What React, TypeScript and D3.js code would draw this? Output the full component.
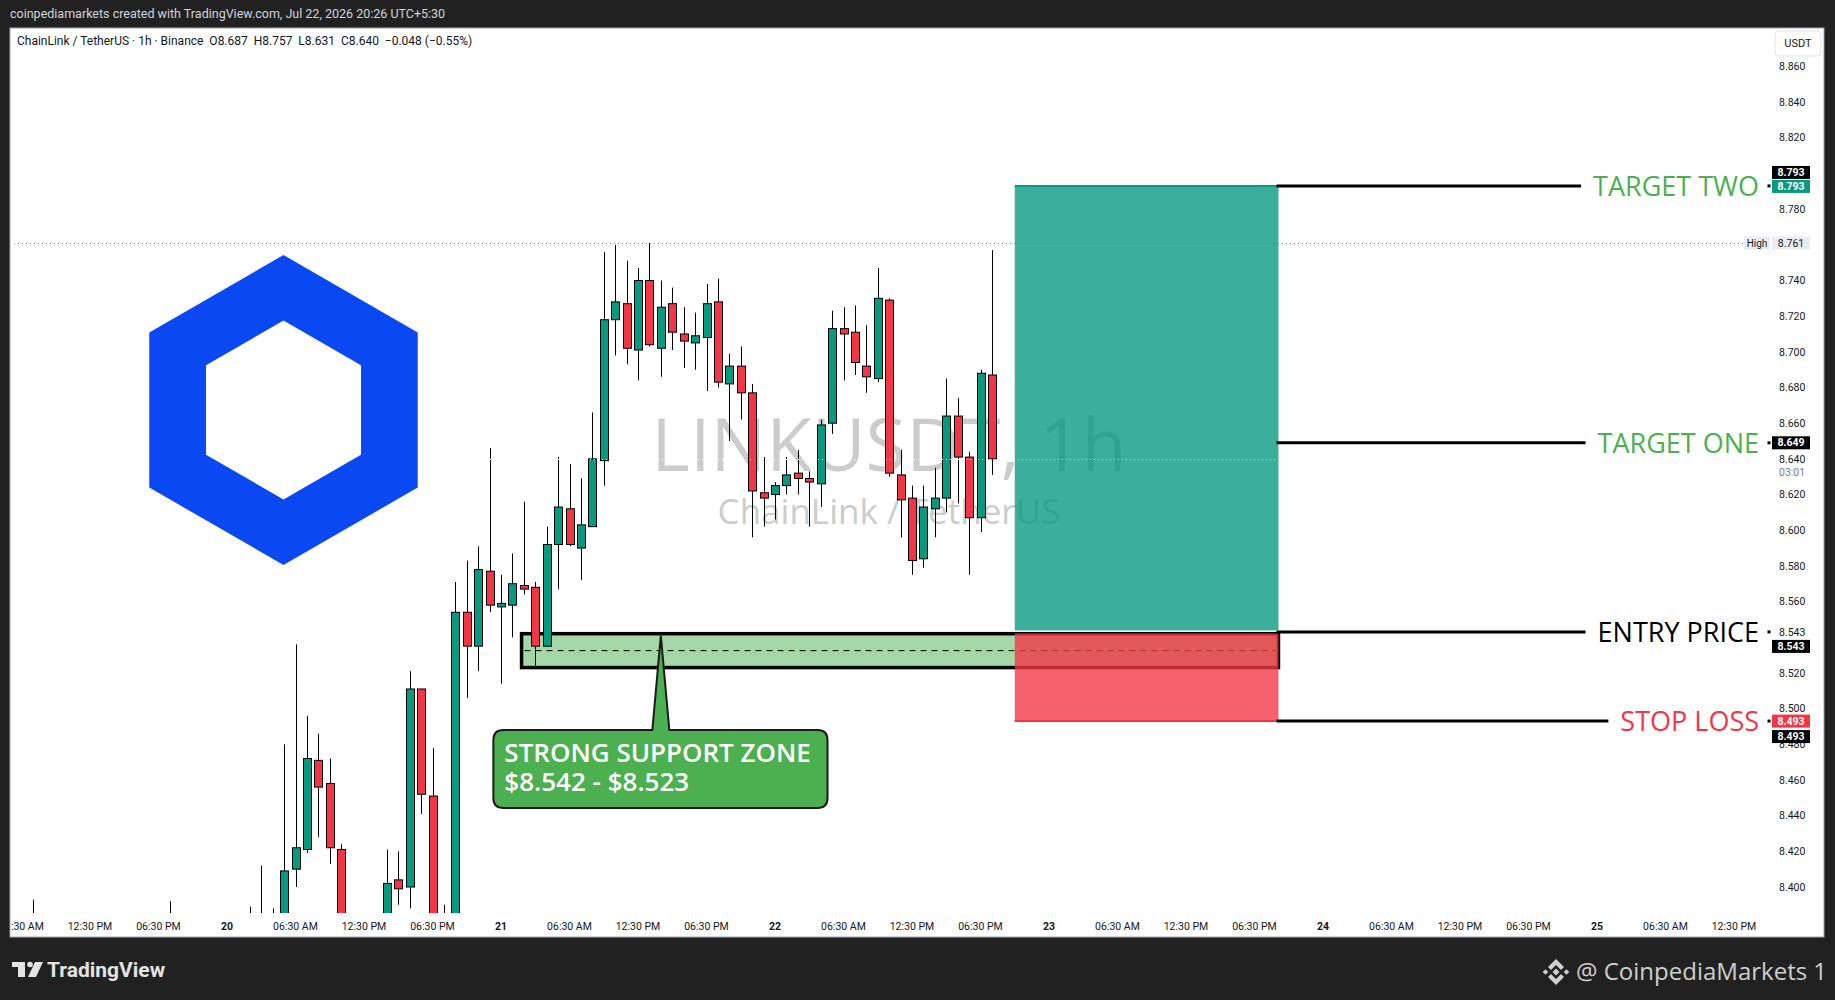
import React, { useEffect, useRef } from 'react';
import * as d3 from 'd3';

// hourly candles (hour index, 0 = 20 Jul 00:30)
const candleHours = [-17, -5, 2, 3, 4, 5, 6, 7, 8, 9, 10, 14, 15, 16, 17, 18, 19, 20, 21, 22, 23, 24, 25, 26, 27, 28, 29, 30, 31, 32, 33, 34, 35, 36, 37, 38, 39, 40, 41, 42, 43, 44, 45, 46, 47, 48, 49, 50, 51, 52, 53, 54, 55, 56, 57, 58, 59, 60, 61, 62, 63, 64, 65, 66, 67];
const opens = [8.375, 8.370, 8.360, 8.372, 8.366, 8.372, 8.410, 8.421, 8.471, 8.458, 8.421, 8.380, 8.404, 8.400, 8.511, 8.451, 8.355, 8.365, 8.554, 8.535, 8.577, 8.557, 8.558, 8.569, 8.568, 8.535, 8.592, 8.612, 8.590, 8.602, 8.639, 8.718, 8.727, 8.701, 8.740, 8.702, 8.727, 8.710, 8.705, 8.708, 8.728, 8.682, 8.692, 8.677, 8.621, 8.620, 8.625, 8.632, 8.629, 8.626, 8.660, 8.713, 8.711, 8.692, 8.685, 8.729, 8.631, 8.618, 8.584, 8.612, 8.618, 8.664, 8.641, 8.607, 8.687];
const highs = [8.393, 8.392, 8.389, 8.412, 8.388, 8.480, 8.536, 8.496, 8.486, 8.472, 8.424, 8.421, 8.420, 8.521, 8.511, 8.478, 8.390, 8.571, 8.583, 8.591, 8.646, 8.575, 8.587, 8.616, 8.571, 8.602, 8.641, 8.637, 8.629, 8.666, 8.756, 8.760, 8.751, 8.747, 8.761, 8.740, 8.736, 8.725, 8.722, 8.738, 8.741, 8.699, 8.703, 8.682, 8.641, 8.627, 8.641, 8.645, 8.633, 8.662, 8.723, 8.725, 8.726, 8.715, 8.747, 8.730, 8.645, 8.625, 8.625, 8.635, 8.685, 8.674, 8.644, 8.690, 8.757];
const lows = [8.362, 8.360, 8.352, 8.355, 8.358, 8.365, 8.400, 8.419, 8.428, 8.413, 8.350, 8.372, 8.390, 8.388, 8.441, 8.350, 8.340, 8.355, 8.506, 8.521, 8.554, 8.514, 8.540, 8.564, 8.524, 8.535, 8.567, 8.591, 8.572, 8.602, 8.625, 8.698, 8.693, 8.684, 8.703, 8.686, 8.701, 8.691, 8.690, 8.678, 8.680, 8.650, 8.662, 8.596, 8.602, 8.606, 8.620, 8.620, 8.602, 8.613, 8.654, 8.684, 8.687, 8.677, 8.683, 8.630, 8.596, 8.575, 8.579, 8.596, 8.610, 8.615, 8.575, 8.599, 8.631];
const closes = [8.370, 8.378, 8.372, 8.366, 8.378, 8.409, 8.422, 8.472, 8.456, 8.422, 8.360, 8.402, 8.399, 8.511, 8.452, 8.360, 8.370, 8.554, 8.535, 8.578, 8.558, 8.559, 8.570, 8.567, 8.535, 8.592, 8.613, 8.592, 8.603, 8.640, 8.718, 8.728, 8.702, 8.740, 8.704, 8.725, 8.711, 8.706, 8.709, 8.727, 8.683, 8.692, 8.677, 8.622, 8.618, 8.625, 8.631, 8.629, 8.627, 8.659, 8.713, 8.710, 8.694, 8.686, 8.730, 8.632, 8.617, 8.583, 8.613, 8.618, 8.664, 8.641, 8.607, 8.688, 8.640];

const priceTicks = [8.86, 8.84, 8.82, 8.78, 8.74, 8.72, 8.7, 8.68, 8.66, 8.64, 8.62, 8.6, 8.58, 8.56, 8.543, 8.52, 8.5, 8.48, 8.46, 8.44, 8.42, 8.4];
const timeTickHours = [-18, -12, -6, 0, 6, 12, 18, 24, 30, 36, 42, 48, 54, 60, 66, 72, 78, 84, 90, 96, 102, 108, 114, 120, 126, 132];
const timeTickLabels = ['06:30 AM', '12:30 PM', '06:30 PM', '20', '06:30 AM', '12:30 PM', '06:30 PM', '21', '06:30 AM', '12:30 PM', '06:30 PM', '22', '06:30 AM', '12:30 PM', '06:30 PM', '23', '06:30 AM', '12:30 PM', '06:30 PM', '24', '06:30 AM', '12:30 PM', '06:30 PM', '25', '06:30 AM', '12:30 PM'];

// trade levels
const levelNames = ['TARGET TWO', 'TARGET ONE', 'ENTRY PRICE', 'STOP LOSS'];
const levelPrices = [8.793, 8.649, 8.543, 8.493];
const levelColors = ['#4caf50', '#4caf50', '#000000', '#f23645'];

const positionStart = 69;
const positionEnd = 92.1;
const zoneTop = 8.542;
const zoneBottom = 8.523;
const zoneStart = 25.8;
const calloutLines = ['STRONG SUPPORT ZONE', '$8.542 - $8.523'];
const highPrice = 8.761;
const lastPrice = 8.64;

const App: React.FC = () => {
  const svgRef = useRef<SVGSVGElement>(null);

  useEffect(() => {
    if (!svgRef.current) return;
    const width = 1835;
    const height = 1000;
    const svg = d3.select(svgRef.current).attr('width', width).attr('height', height);
    svg.selectAll('*').remove();

    const panel = { left: 10, top: 28, right: 1824, bottom: 937 };
    const plotRight = 1769;
    const plotBottom = 913;
    const uiFont = 'Roboto, "Noto Sans", sans-serif';
    const bigFont = '"Open Sans", "Noto Sans", sans-serif';

    const x = d3.scaleLinear().domain([0, 24]).range([227, 501]);
    const y = d3.scaleLinear().domain([8.4, 8.86]).range([887, 66.4]);

    svg.append('rect').attr('width', width).attr('height', height).attr('fill', '#212121');
    svg.append('rect')
      .attr('x', panel.left).attr('y', panel.top)
      .attr('width', panel.right - panel.left).attr('height', panel.bottom - panel.top)
      .attr('fill', '#ffffff').attr('stroke', '#a3a6af');

    const defs = svg.append('defs');
    defs.append('clipPath').attr('id', 'plot-clip').append('rect')
      .attr('x', panel.left + 1).attr('y', panel.top + 1)
      .attr('width', plotRight - panel.left - 1).attr('height', plotBottom - panel.top - 1);
    defs.append('clipPath').attr('id', 'time-clip').append('rect')
      .attr('x', panel.left + 1).attr('y', plotBottom)
      .attr('width', plotRight - panel.left - 1).attr('height', panel.bottom - plotBottom);

    const plot = svg.append('g').attr('clip-path', 'url(#plot-clip)');

    // watermark
    plot.append('text').attr('x', 889).attr('y', 471)
      .attr('text-anchor', 'middle').attr('font-family', bigFont).attr('font-size', 74)
      .attr('fill', '#cccccc').text('LINKUSDT, 1h');
    plot.append('text').attr('x', 889).attr('y', 524)
      .attr('text-anchor', 'middle').attr('font-family', bigFont).attr('font-size', 35)
      .attr('fill', '#cccccc').text('ChainLink / TetherUS');

    // session high dotted line
    plot.append('line')
      .attr('x1', panel.left).attr('x2', 1744)
      .attr('y1', Math.round(y(highPrice)) + 0.5).attr('y2', Math.round(y(highPrice)) + 0.5)
      .attr('stroke', '#9598a1').attr('stroke-dasharray', '1,3');

    // support zone
    const zoneG = plot.append('g');
    zoneG.append('rect')
      .attr('x', x(zoneStart)).attr('y', y(zoneTop))
      .attr('width', x(positionEnd) - x(zoneStart)).attr('height', y(zoneBottom) - y(zoneTop))
      .attr('fill', '#a5d6a7').attr('stroke', '#000').attr('stroke-width', 3.5);
    zoneG.append('line')
      .attr('x1', x(zoneStart) + 3).attr('x2', x(positionEnd) - 3)
      .attr('y1', y((zoneTop + zoneBottom) / 2)).attr('y2', y((zoneTop + zoneBottom) / 2))
      .attr('stroke', '#000').attr('stroke-dasharray', '6,5');

    // candles
    const candles = candleHours.map((h, i) => ({ h, o: opens[i], hi: highs[i], lo: lows[i], c: closes[i] }));
    const cg = plot.append('g');
    candles.forEach(d => {
      const cx = Math.round(x(d.h)) + 0.5;
      const up = d.c >= d.o;
      cg.append('line')
        .attr('x1', cx).attr('x2', cx)
        .attr('y1', y(d.hi)).attr('y2', y(d.lo))
        .attr('stroke', '#000').attr('stroke-width', 1);
      const top = y(Math.max(d.o, d.c));
      const bot = y(Math.min(d.o, d.c));
      cg.append('rect')
        .attr('x', cx - 4).attr('y', top)
        .attr('width', 8).attr('height', Math.max(1, bot - top))
        .attr('fill', up ? '#089981' : '#f23645')
        .attr('stroke', '#000').attr('stroke-width', 1);
    });

    // long position tool
    const px0 = x(positionStart);
    const px1 = x(positionEnd);
    const yEntry = y(levelPrices[2]);
    plot.append('rect')
      .attr('x', px0).attr('y', y(levelPrices[0]))
      .attr('width', px1 - px0).attr('height', yEntry - 1.5 - y(levelPrices[0]))
      .attr('fill', 'rgba(8,153,129,0.79)');
    plot.append('line')
      .attr('x1', px0).attr('x2', px1)
      .attr('y1', y(levelPrices[0])).attr('y2', y(levelPrices[0]))
      .attr('stroke', '#089981').attr('stroke-width', 2);
    plot.append('rect')
      .attr('x', px0).attr('y', yEntry + 1.5)
      .attr('width', px1 - px0).attr('height', y(levelPrices[3]) - yEntry - 1.5)
      .attr('fill', 'rgba(242,54,69,0.79)');
    plot.append('line')
      .attr('x1', px0).attr('x2', px1)
      .attr('y1', y(levelPrices[3])).attr('y2', y(levelPrices[3]))
      .attr('stroke', '#f23645').attr('stroke-width', 2);

    // last price dotted line
    plot.append('line')
      .attr('x1', panel.left).attr('x2', plotRight)
      .attr('y1', Math.round(y(lastPrice)) + 0.5).attr('y2', Math.round(y(lastPrice)) + 0.5)
      .attr('stroke', '#ffffff').attr('stroke-dasharray', '1,3');

    // chainlink logo overlay (pasted image, sits above the chart lines)
    const hex = (cx: number, cy: number, r: number) =>
      d3.range(6).map(i => {
        const a = (-90 + 60 * i) * Math.PI / 180;
        return [cx + r * Math.cos(a), cy + r * Math.sin(a)];
      }).map((p, i) => `${i ? 'L' : 'M'}${p[0]},${p[1]}`).join('') + 'Z';
    plot.append('path')
      .attr('d', hex(283.5, 410, 155) + hex(283.5, 410, 89.5))
      .attr('fill', '#0a48f2').attr('fill-rule', 'evenodd');

    // level lines and labels
    levelNames.forEach((name, i) => {
      const ly = y(levelPrices[i]);
      const t = plot.append('text')
        .attr('x', 1759).attr('y', ly)
        .attr('dy', '0.36em')
        .attr('text-anchor', 'end')
        .attr('font-family', bigFont).attr('font-size', 27)
        .attr('fill', levelColors[i]).text(name);
      const bb = (t.node() as SVGTextElement).getBBox();
      plot.append('line')
        .attr('x1', px1 - 2).attr('x2', bb.x - 12)
        .attr('y1', ly).attr('y2', ly)
        .attr('stroke', '#000').attr('stroke-width', 3);
      svg.append('rect')
        .attr('x', 1767.5).attr('y', ly - 1.5).attr('width', 3).attr('height', 3).attr('fill', '#000');
    });

    // callout
    const bx0 = x(23.33), bx1 = x(52.6), by0 = 730, by1 = 808, r = 10;
    const tipX = x(38);
    const tipY = y(zoneTop) + 2;
    const calloutPath = [
      `M${bx0 + r},${by0}`,
      `L${tipX - 8.5},${by0}`,
      `L${tipX},${tipY}`,
      `L${tipX + 8.5},${by0}`,
      `L${bx1 - r},${by0}`,
      `Q${bx1},${by0} ${bx1},${by0 + r}`,
      `L${bx1},${by1 - r}`,
      `Q${bx1},${by1} ${bx1 - r},${by1}`,
      `L${bx0 + r},${by1}`,
      `Q${bx0},${by1} ${bx0},${by1 - r}`,
      `L${bx0},${by0 + r}`,
      `Q${bx0},${by0} ${bx0 + r},${by0}`,
      'Z'
    ].join('');
    plot.append('path').attr('d', calloutPath)
      .attr('fill', '#4caf50').attr('stroke', '#1b1b1b').attr('stroke-width', 2);
    calloutLines.forEach((line, i) => {
      plot.append('text')
        .attr('x', bx0 + 11).attr('y', 762 + i * 28.5)
        .attr('font-family', bigFont).attr('font-size', 26).attr('font-weight', 600)
        .attr('fill', '#ffffff').text(line);
    });

    // price scale
    const axis = svg.append('g').attr('font-family', uiFont).attr('font-size', 10.5);
    axis.append('rect').attr('x', 1775).attr('y', 31).attr('width', 46).attr('height', 25)
      .attr('rx', 4).attr('fill', '#fff').attr('stroke', '#e0e3eb');
    axis.append('text').attr('x', 1798).attr('y', 43.5).attr('dy', '0.35em')
      .attr('text-anchor', 'middle').attr('fill', '#131722').attr('font-size', 11).text('USDT');
    priceTicks.forEach(p => {
      axis.append('text').attr('x', 1779).attr('y', y(p)).attr('dy', '0.35em')
        .attr('fill', '#131722').text(d3.format('.3f')(p));
    });
    axis.append('text').attr('x', 1779).attr('y', y(lastPrice) + 13).attr('dy', '0.35em')
      .attr('fill', '#787b86').text('03:01');

    const badge = (py: number, label: string, bg: string, fg: string) => {
      axis.append('rect').attr('x', 1772).attr('y', py - 6.5).attr('width', 38).attr('height', 13).attr('fill', bg);
      axis.append('text').attr('x', 1791).attr('y', py).attr('dy', '0.35em')
        .attr('text-anchor', 'middle').attr('font-weight', 700).attr('fill', fg).text(label);
    };
    const fmt = d3.format('.3f');
    badge(y(levelPrices[0]) - 13.5, fmt(levelPrices[0]), '#000', '#fff');
    badge(y(levelPrices[0]) + 0.5, fmt(levelPrices[0]), '#089981', '#fff');
    badge(y(levelPrices[1]), fmt(levelPrices[1]), '#000', '#fff');
    badge(y(levelPrices[2]) + 14.5, fmt(levelPrices[2]), '#000', '#fff');
    badge(y(levelPrices[3]), fmt(levelPrices[3]), '#f23645', '#fff');
    badge(y(levelPrices[3]) + 15.5, fmt(levelPrices[3]), '#000', '#fff');

    // session high label
    axis.append('rect').attr('x', 1744).attr('y', y(highPrice) - 6.5).attr('width', 26).attr('height', 13).attr('fill', '#e9ecf2');
    axis.append('text').attr('x', 1757).attr('y', y(highPrice)).attr('dy', '0.35em')
      .attr('text-anchor', 'middle').attr('fill', '#131722').attr('font-size', 10).text('High');
    axis.append('rect').attr('x', 1772).attr('y', y(highPrice) - 6.5).attr('width', 38).attr('height', 13).attr('fill', '#e9ecf2');
    axis.append('text').attr('x', 1791).attr('y', y(highPrice)).attr('dy', '0.35em')
      .attr('text-anchor', 'middle').attr('fill', '#131722').text(fmt(highPrice));

    // time scale
    const timeAxis = svg.append('g').attr('clip-path', 'url(#time-clip)')
      .attr('font-family', uiFont).attr('font-size', 10.5).attr('fill', '#131722');
    timeTickHours.forEach((h, i) => {
      const isDay = !timeTickLabels[i].includes(':');
      timeAxis.append('text').attr('x', x(h)).attr('y', 926).attr('dy', '0.35em')
        .attr('text-anchor', 'middle').attr('font-weight', isDay ? 700 : 400)
        .text(timeTickLabels[i]);
    });

    // header
    svg.append('text').attr('x', 10).attr('y', 14).attr('dy', '0.35em')
      .attr('font-family', uiFont).attr('font-size', 12.5).attr('fill', '#d1d4dc')
      .text('coinpediamarkets created with TradingView.com, Jul 22, 2026 20:26 UTC+5:30');
    svg.append('text').attr('x', 17).attr('y', 41).attr('dy', '0.35em')
      .attr('font-family', uiFont).attr('font-size', 12).attr('fill', '#131722')
      .attr('xml:space', 'preserve')
      .text('ChainLink / TetherUS · 1h · Binance  O8.687  H8.757  L8.631  C8.640  −0.048 (−0.55%)');

    // footer: TradingView logo
    const foot = svg.append('g').attr('fill', '#e3e3e3');
    foot.append('rect').attr('x', 12).attr('y', 962).attr('width', 13).attr('height', 5);
    foot.append('rect').attr('x', 18).attr('y', 962).attr('width', 7).attr('height', 15);
    foot.append('circle').attr('cx', 30).attr('cy', 964.5).attr('r', 2.8);
    foot.append('path').attr('d', 'M35,962 L43,962 L36,977 L28,977 Z');
    foot.append('text').attr('x', 47).attr('y', 977)
      .attr('font-family', uiFont).attr('font-size', 21).attr('font-weight', 700)
      .text('TradingView');

    // footer: binance mark + handle
    const bn = svg.append('g').attr('fill', '#cfcfcf').attr('transform', 'translate(1556,972)');
    const diamond = (cx: number, cy: number, s: number) => `M${cx},${cy - s}L${cx + s},${cy}L${cx},${cy + s}L${cx - s},${cy}Z`;
    bn.append('path').attr('d', diamond(0, 0, 3.5));
    bn.append('path').attr('d', 'M0,-13 L8,-5 L5,-2 L0,-7 L-5,-2 L-8,-5 Z');
    bn.append('path').attr('d', 'M0,13 L8,5 L5,2 L0,7 L-5,2 L-8,5 Z');
    bn.append('path').attr('d', diamond(-10.5, 0, 2.8));
    bn.append('path').attr('d', diamond(10.5, 0, 2.8));
    svg.append('text').attr('x', 1576).attr('y', 972).attr('dy', '0.35em')
      .attr('font-family', bigFont).attr('font-size', 24).attr('fill', '#cfcfcf')
      .text('@ CoinpediaMarkets 1');
  }, []);

  return (
    <div style={{ position: 'absolute', left: 0, top: 0 }}>
      <svg ref={svgRef} style={{ display: 'block' }} />
    </div>
  );
};

export default App;
